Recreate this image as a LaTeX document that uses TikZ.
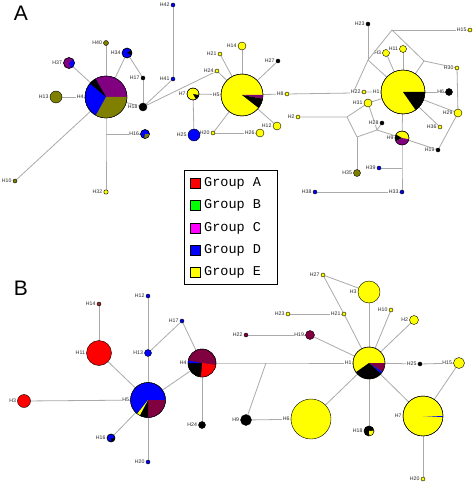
\documentclass[tikz,border=0pt]{standalone}
\usepackage{fontspec}
\setmainfont{Liberation Sans}
\newfontfamily\legfont{Liberation Mono}
\definecolor{gA}{RGB}{255,0,0}
\definecolor{gB}{RGB}{0,255,0}
\definecolor{gC}{RGB}{255,0,255}
\definecolor{gD}{RGB}{0,0,255}
\definecolor{gE}{RGB}{255,255,0}
\definecolor{purp}{RGB}{128,0,128}
\definecolor{oliv}{RGB}{128,128,0}
\definecolor{maro}{RGB}{128,0,64}
\definecolor{brwn}{RGB}{160,40,40}
\definecolor{edgec}{RGB}{170,170,170}
\pgfdeclarelayer{bglayer}
\pgfdeclarelayer{edgelayer}
\pgfsetlayers{bglayer,edgelayer,main}
\tikzset{
  hapnode/.style={circle, draw=black, line width=0.4pt, inner sep=0pt, outer sep=0pt},
  haplab/.style={font=\fontsize{5.2}{6}\selectfont, text=black!85, inner sep=0.4pt, fill=white, anchor=east},
  link/.style={draw=edgec, line width=0.8pt},
  swatch/.style={draw=black, line width=0.8pt, minimum size=10pt, inner sep=0pt},
  legtext/.style={font=\legfont\fontsize{13.5}{14}\selectfont, anchor=west, inner sep=0pt},
  panel/.style={font=\fontsize{21}{21}\selectfont, inner sep=0pt},
}
\newcommand{\hp}[6]{%
  \node[hapnode, fill=#5, minimum size=#4*2pt] (#1) at (#2,#3) {};
  \node[haplab] (#1l) at ([xshift=-1pt]#1.west) {#6};}
\newcommand{\pw}[5]{\fill[#5] (#1.center) -- ++(#3:#2pt) arc[start angle=#3, end angle=#4, radius=#2pt] -- cycle;}
\newcommand{\po}[2]{\draw[black, line width=0.4pt] (#1.center) circle[radius=#2pt];}
\begin{document}
\begin{tikzpicture}[x=1pt,y=-1pt]
\useasboundingbox (0,0) rectangle (474,484);
\begin{pgfonlayer}{bglayer}
\fill[white] (0,0) rectangle (474,484);
\end{pgfonlayer}
\node[panel] (labA) at (21,13) {A};
\node[panel] (labB) at (21,288) {B};
% ---------------- Panel A ----------------
\hp{aH4}{106}{97}{21}{gD}{H4}
\pw{aH4}{21}{0}{120}{purp}
\pw{aH4}{21}{120}{140}{black}
\pw{aH4}{21}{241}{360}{oliv}
\po{aH4}{21}
\hp{aH40}{106}{43}{2.5}{oliv}{H40}
\hp{aH34}{127}{53}{5}{gD}{H34}
\pw{aH34}{5}{-25}{35}{black}
\po{aH34}{5}
\hp{aH37}{69}{63}{5.5}{purp}{H37}
\pw{aH37}{5.5}{-70}{40}{gD}
\po{aH37}{5.5}
\hp{aH13}{56}{97}{6}{oliv}{H13}
\hp{aH17}{143}{78}{2}{black}{H17}
\hp{aH18}{143}{107}{4}{black}{H18}
\hp{aH16}{145}{134}{4.5}{gD}{H16}
\pw{aH16}{4.5}{-100}{0}{oliv}
\po{aH16}{4.5}
\hp{aH10}{15}{181}{2}{oliv}{H10}
\hp{aH32}{106}{192}{2.2}{gE}{H32}
\hp{aH42}{173}{5}{2}{gD}{H42}
\hp{aH41}{173}{79}{2}{gD}{H41}
\hp{aH5}{242}{95}{21}{gE}{H5}
\pw{aH5}{21}{-10}{0}{purp}
\pw{aH5}{21}{-38}{-10}{black}
\po{aH5}{21}
\hp{aH14}{242}{46}{4}{gE}{H14}
\hp{aH21}{220}{54}{2}{gE}{H21}
\hp{aH27}{278}{61}{2}{black}{H27}
\hp{aH24}{217}{71}{2}{gE}{H24}
\hp{aH7}{193}{94}{6}{gE}{H7}
\pw{aH7}{6}{-60}{-10}{black}
\po{aH7}{6}
\hp{aH8}{287}{94}{2}{gE}{H8}
\hp{aH2}{298}{117}{2}{gE}{H2}
\hp{aH12}{277}{126}{4}{gE}{H12}
\hp{aH26}{260}{133}{4}{gE}{H26}
\hp{aH20}{213}{133}{2}{gE}{H20}
\hp{aH25}{194}{135}{6}{gD}{H25}
\hp{aH1}{403}{92}{22}{gE}{H1}
\pw{aH1}{22}{-55}{0}{black}
\po{aH1}{22}
\hp{aH23}{368}{24}{2}{black}{H23}
\hp{aH15}{470}{30}{2}{gE}{H15}
\hp{aH3}{386}{53}{3.5}{gE}{H3}
\hp{aH11}{403}{49}{3.5}{gE}{H11}
\hp{aH30}{457}{68}{2}{gE}{H30}
\hp{aH22}{364}{92}{2}{gE}{H22}
\hp{aH6}{449}{92}{3.5}{black}{H6}
\hp{aH31}{368}{103}{4}{gE}{H31}
\hp{aH29}{458}{113}{4}{gE}{H29}
\hp{aH28}{382}{123}{2}{black}{H28}
\hp{aH36}{440}{127}{2}{gE}{H36}
\hp{aH9}{402}{138}{7}{gE}{H9}
\pw{aH9}{7}{150}{210}{black}
\pw{aH9}{7}{210}{350}{purp}
\po{aH9}{7}
\hp{aH19}{438}{150}{2}{black}{H19}
\hp{aH39}{379}{168}{2}{gD}{H39}
\hp{aH35}{357}{173}{3.5}{oliv}{H35}
\hp{aH33}{402}{192}{2}{gD}{H33}
\hp{aH38}{315}{192}{2}{gD}{H38}
\coordinate (jA1) at (106,134);
\coordinate (jA2) at (392,30);
\coordinate (jA3) at (368,60);
\coordinate (jA4) at (424,61);
\coordinate (jA5) at (353,93);
\coordinate (jA6) at (347,117);
\coordinate (jA7) at (357,137);
\coordinate (jA8) at (377,130);
\coordinate (jA9) at (402,168);
% ---------------- Legend ----------------
\draw[black, line width=0.8pt] (184,170) rectangle (277,284);
\node[swatch, fill=gA] (sA) at (195,183) {};
\node[swatch, fill=gB] (sB) at (195,205) {};
\node[swatch, fill=gC] (sC) at (195,228) {};
\node[swatch, fill=gD] (sD) at (195,250) {};
\node[swatch, fill=gE] (sE) at (195,272) {};
\node[legtext] (tA) at (204,183) {Group A};
\node[legtext] (tB) at (204,205) {Group B};
\node[legtext] (tC) at (204,228) {Group C};
\node[legtext] (tD) at (204,250) {Group D};
\node[legtext] (tE) at (204,272) {Group E};
% ---------------- Panel B ----------------
\hp{bH14}{99}{304}{2}{brwn}{H14}
\hp{bH11}{99}{353}{12.5}{gA}{H11}
\hp{bH3}{24}{401}{6.5}{gA}{H3}
\hp{bH5}{148}{400}{17.5}{gD}{H5}
\pw{bH5}{17.5}{-90}{0}{maro}
\pw{bH5}{17.5}{-118}{-90}{black}
\pw{bH5}{17.5}{-128}{-118}{gE}
\po{bH5}{17.5}
\hp{bH12}{148}{296}{2}{gD}{H12}
\hp{bH13}{148}{353}{3.5}{gD}{H13}
\hp{bH17}{182}{321}{2}{gD}{H17}
\hp{bH4}{202}{363}{14}{maro}{H4}
\pw{bH4}{14}{-95}{-8}{gA}
\pw{bH4}{14}{180}{265}{black}
\pw{bH4}{14}{170}{180}{gD}
\po{bH4}{14}
\hp{bH16}{111}{438}{4}{gD}{H16}
\pw{bH16}{4}{-90}{0}{black}
\po{bH16}{4}
\hp{bH24}{202}{425}{3.5}{black}{H24}
\hp{bH20}{148}{462}{2}{gD}{H20}
\hp{bH27}{323}{275}{2}{gE}{H27}
\hp{bH3y}{369}{292}{11}{gE}{H3}
\hp{bH23}{288}{314}{2}{gE}{H23}
\hp{bH21}{344}{314}{2}{gE}{H21}
\hp{bH10}{391}{310}{2}{gE}{H10}
\hp{bH2}{414}{320}{4.5}{gE}{H2}
\hp{bH22}{246}{335}{2}{maro}{H22}
\hp{bH19}{310}{335}{4.5}{maro}{H19}
\hp{bH1}{369}{363}{16}{gE}{H1}
\pw{bH1}{16}{-33}{0}{maro}
\pw{bH1}{16}{-42}{-33}{gD}
\pw{bH1}{16}{-145}{-42}{black}
\po{bH1}{16}
\hp{bH25}{420}{364}{2}{black}{H25}
\hp{bH15}{459}{363}{5.5}{gE}{H15}
\hp{bH9}{246}{420}{5.5}{black}{H9}
\hp{bH6}{311}{419}{20}{gE}{H6}
\hp{bH18}{369}{431}{5}{black}{H18}
\pw{bH18}{5}{-85}{5}{gE}
\po{bH18}{5}
\hp{bH7}{423}{416}{20}{gE}{H7}
\pw{bH7}{20}{-3}{0}{gD}
\po{bH7}{20}
\hp{bH20y}{423}{479}{2}{gE}{H20}
\coordinate (jB1) at (266,363);
% ---------------- Edges ----------------
\begin{pgfonlayer}{edgelayer}
\draw[link] (aH40) -- (aH4);
\draw[link] (aH4) -- (aH34);
\draw[link] (aH34) -- (aH17);
\draw[link] (aH17) -- (aH18);
\draw[link] (aH18) -- (aH4);
\draw[link] (aH37) -- (aH4);
\draw[link] (aH13) -- (aH4);
\draw[link] (aH10) -- (aH4);
\draw[link] (aH4) -- (jA1) -- (aH32);
\draw[link] (jA1) -- (aH16);
\draw[link] (aH42) -- (aH41);
\draw[link] (aH18) -- (aH41);
\draw[link] (aH18) -- (aH24);
\draw[link] (aH24) -- (aH5);
\draw[link] (aH21) -- (aH5);
\draw[link] (aH14) -- (aH5);
\draw[link] (aH27) -- (aH5);
\draw[link] (aH7) -- (aH5);
\draw[link] (aH7) -- (aH25);
\draw[link] (aH5) -- (aH20);
\draw[link] (aH20) -- (aH26);
\draw[link] (aH5) -- (aH12);
\draw[link] (aH5) -- (aH8);
\draw[link] (aH8) -- (jA5) -- (aH22) -- (aH1);
\draw[link] (jA2) -- (aH15);
\draw[link] (jA2) -- (jA3);
\draw[link] (jA2) -- (jA4);
\draw[link] (aH23) -- (jA3);
\draw[link] (jA3) -- (aH1);
\draw[link] (jA3) -- (jA5);
\draw[link] (jA4) -- (aH1);
\draw[link] (jA4) -- (aH30);
\draw[link] (aH30) -- (aH29);
\draw[link] (aH29) -- (aH1);
\draw[link] (aH29) -- (aH19);
\draw[link] (aH19) -- (aH9);
\draw[link] (aH1) -- (aH9);
\draw[link] (aH1) -- (aH6);
\draw[link] (aH1) -- (aH36);
\draw[link] (aH3) -- (aH1);
\draw[link] (aH11) -- (aH1);
\draw[link] (aH2) -- (jA6) -- (aH31);
\draw[link] (aH31) -- (aH1);
\draw[link] (jA6) -- (jA7);
\draw[link] (jA7) -- (aH35);
\draw[link] (jA7) -- (jA8);
\draw[link] (aH31) -- (jA8);
\draw[link] (aH28) -- (jA8);
\draw[link] (jA8) -- (aH9);
\draw[link] (aH9) -- (jA9) -- (aH33);
\draw[link] (aH39) -- (jA9);
\draw[link] (aH38) -- (aH33);
% B
\draw[link] (bH14) -- (bH11);
\draw[link] (bH11) -- (bH5);
\draw[link] (bH3) -- (bH5);
\draw[link] (bH12) -- (bH13);
\draw[link] (bH13) -- (bH5);
\draw[link] (bH13) -- (bH17);
\draw[link] (bH17) -- (bH4);
\draw[link] (bH5) -- (bH4);
\draw[link] (bH4) -- (bH24);
\draw[link] (bH5) -- (bH16);
\draw[link] (bH5) -- (bH20);
\draw[link] (bH4) -- (jB1) -- (bH1);
\draw[link] (bH9) -- (jB1);
\draw[link] (bH9) -- (bH6);
\draw[link] (bH6) -- (bH1);
\draw[link] (bH27) -- (bH3y);
\draw[link] (bH27) -- (bH21) -- (bH1);
\draw[link] (bH23) -- (bH21);
\draw[link] (bH3y) -- (bH1);
\draw[link] (bH10) -- (bH1);
\draw[link] (bH2) -- (bH1);
\draw[link] (bH22) -- (bH19);
\draw[link] (bH19) -- (bH1);
\draw[link] (bH1) -- (bH25) -- (bH15);
\draw[link] (bH15) -- (bH7);
\draw[link] (bH1) -- (bH7);
\draw[link] (bH1) -- (bH18);
\draw[link] (bH7) -- (bH20y);
\end{pgfonlayer}
\end{tikzpicture}
\end{document}
